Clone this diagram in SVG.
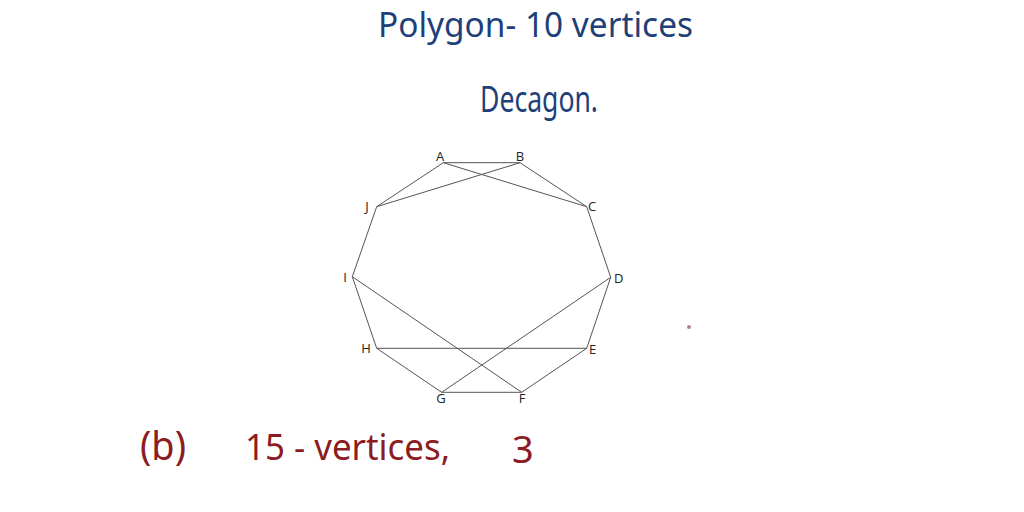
<svg xmlns="http://www.w3.org/2000/svg" width="1024" height="512" viewBox="0 0 1024 512">
<style>
.e{stroke:#555;stroke-width:1;fill:none}
.lbl{font-family:"Open Sans","Noto Sans",sans-serif;font-size:13px;fill:#222}
.hw1{font-family:"Noto Sans",sans-serif;fill:#1f3f78}
.hw2{font-family:"Noto Sans",sans-serif;fill:#8a1c22}
</style>
<rect width="1024" height="512" fill="#fff"/>
<text class="hw1" x="378" y="37" font-size="34" textLength="315" lengthAdjust="spacingAndGlyphs">Polygon- 10 vertices</text>
<text class="hw1" x="480" y="112" font-size="36" textLength="118" lengthAdjust="spacingAndGlyphs">Decagon.</text>
<g id="connectors">
<line class="e" x1="443.3" y1="162.7" x2="520" y2="162.7"/>
<line class="e" x1="520" y1="162.7" x2="586.7" y2="206.7"/>
<line class="e" x1="586.7" y1="206.7" x2="610.7" y2="277.3"/>
<line class="e" x1="610.7" y1="277.3" x2="586.7" y2="348.3"/>
<line class="e" x1="586.7" y1="348.3" x2="521.7" y2="392.3"/>
<line class="e" x1="521.7" y1="392.3" x2="441.7" y2="392.3"/>
<line class="e" x1="441.7" y1="392.3" x2="376.7" y2="348.3"/>
<line class="e" x1="376.7" y1="348.3" x2="352.3" y2="276.7"/>
<line class="e" x1="352.3" y1="276.7" x2="376.7" y2="206.7"/>
<line class="e" x1="376.7" y1="206.7" x2="443.3" y2="162.7"/>
<line class="e" x1="443.3" y1="162.7" x2="586.7" y2="206.7"/>
<line class="e" x1="520" y1="162.7" x2="376.7" y2="206.7"/>
<line class="e" x1="352.3" y1="276.7" x2="521.7" y2="392.3"/>
<line class="e" x1="610.7" y1="277.3" x2="441.7" y2="392.3"/>
<line class="e" x1="376.7" y1="348.3" x2="586.7" y2="348.3"/>
</g>
<g id="A"><text class="lbl" x="440" y="161" text-anchor="middle">A</text></g>
<g id="B"><text class="lbl" x="520" y="161" text-anchor="middle">B</text></g>
<g id="C"><text class="lbl" x="588" y="211">C</text></g>
<g id="D"><text class="lbl" x="614" y="283">D</text></g>
<g id="E"><text class="lbl" x="589" y="354">E</text></g>
<g id="F"><text class="lbl" x="522" y="403" text-anchor="middle">F</text></g>
<g id="G"><text class="lbl" x="441" y="403" text-anchor="middle">G</text></g>
<g id="H"><text class="lbl" x="366" y="353" text-anchor="middle">H</text></g>
<g id="I"><text class="lbl" x="345" y="282" text-anchor="middle">I</text></g>
<g id="J"><text class="lbl" x="367" y="211" text-anchor="middle">J</text></g>
<circle cx="689" cy="327" r="2" fill="#b08090"/>
<text class="hw2" x="140" y="460" font-size="40" textLength="46" lengthAdjust="spacingAndGlyphs">(b)</text>
<text class="hw2" x="245" y="460" font-size="36" textLength="205" lengthAdjust="spacingAndGlyphs">15 - vertices,</text>
<text class="hw2" x="512" y="463" font-size="38">3</text>
</svg>
